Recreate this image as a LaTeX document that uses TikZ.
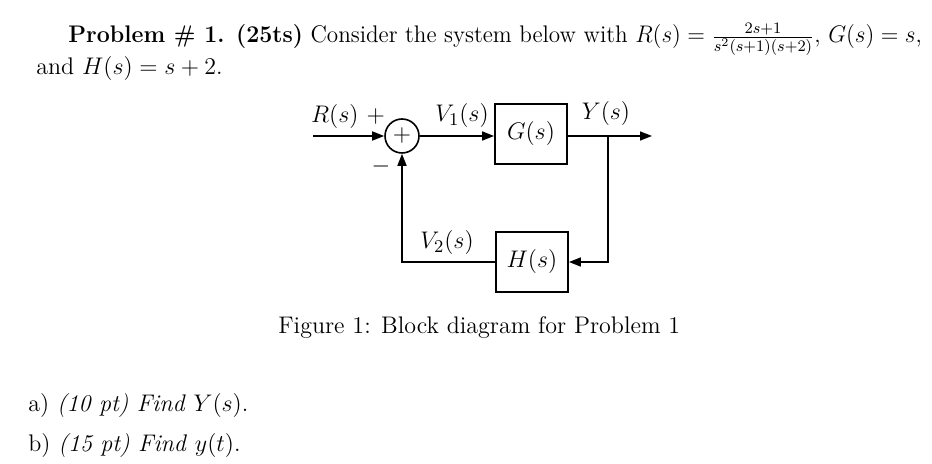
\documentclass[tikz,border=0pt]{standalone}
\usepackage{amsmath}
\usepackage{graphicx}
\usetikzlibrary{arrows.meta}
\begin{document}
\begin{tikzpicture}[x=0.5pt,y=-0.5pt,
  txt/.style={anchor=base west,inner sep=0pt,font=\fontsize{12}{14}\selectfont},
  lbl/.style={inner sep=0pt,font=\fontsize{12.5}{14}\selectfont},
  blk/.style={draw,line width=0.9pt,minimum width=36pt,minimum height=30pt,inner sep=0pt,font=\fontsize{12.5}{14}\selectfont},
  sumc/.style={draw,circle,line width=0.8pt,minimum size=17pt,inner sep=0pt,font=\fontsize{13}{14}\selectfont},
  wire/.style={line width=0.8pt},
  arr/.style={wire,-{Triangle[length=6pt,width=4.5pt]}}]
\useasboundingbox (0,0) rectangle (932,464);
\fill[white] (0,0) rectangle (932,464);
% text
\node[txt] (t1) at (68,43) {\scalebox{0.965}[1]{\textbf{Problem \# 1. (25ts)} Consider the system below with $R(s)=\frac{2s+1}{s^2(s+1)(s+2)}$, $G(s)=s$,}};
\node[txt] (t2) at (36,75) {and $H(s)=s+2$.};
% diagram
\node[sumc] (sum) at (402,136) {$+$};
\node[blk] (G) at (531,134) {$G(s)$};
\node[blk] (H) at (532,262) {$H(s)$};
\coordinate (in) at (313,136);
\coordinate (out) at (652,136);
\coordinate (br) at (608,136);
\coordinate (fbl) at (402,262);
\draw[arr] (in) -- (sum.west);
\draw[arr] (sum.east) -- (sum.east -| G.west);
\draw[arr] (G.east |- out) -- (out);
\draw[arr] (br) -- (br |- H.east) -- (H.east);
\draw[arr] (H.west) -- (fbl) -- (sum.south);
\node[lbl,anchor=base] (rl) at (348,123) {$R(s)$ $+$};
\node[lbl,anchor=base] (v1) at (462,122) {$V_1(s)$};
\node[lbl,anchor=base] (yl) at (606,120) {$Y(s)$};
\node[lbl,anchor=base] (v2) at (447,249) {$V_2(s)$};
\node[lbl] (mn) at (381,167) {$-$};
% caption
\node[txt] (cap) at (278,334) {Figure 1: Block diagram for Problem 1};
% parts
\node[txt] (pa) at (28,412) {a) \textit{(10 pt) Find} $Y(s)$.};
\node[txt] (pb) at (28,452) {b) \textit{(15 pt) Find} $y(t)$.};
\end{tikzpicture}
\end{document}
